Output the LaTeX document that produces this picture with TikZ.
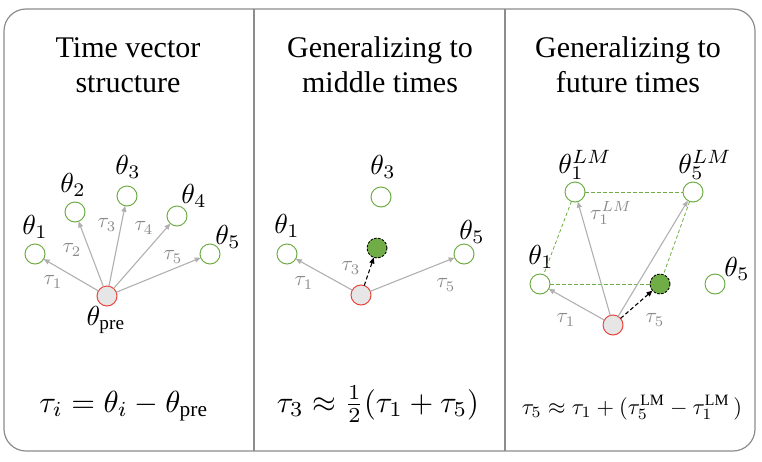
\documentclass[tikz,border=0pt]{standalone}
\usepackage{fontspec}
\setmainfont{Liberation Serif}
\usetikzlibrary{arrows.meta}
\definecolor{cgreen}{HTML}{70AD47}
\definecolor{cred}{HTML}{E8453C}
\definecolor{cgray}{HTML}{B0B0B0}
\definecolor{ctau}{HTML}{8A8A8A}
\definecolor{cframe}{HTML}{8C8C8C}
\definecolor{cfill}{HTML}{E6E6E6}
\begin{document}
\begin{tikzpicture}[x=1pt,y=-1pt,
  every node/.style={inner sep=0pt,outer sep=0pt},
  title/.style={anchor=base,font=\fontsize{30}{35}\selectfont},
  tnode/.style={circle,draw=cgreen,line width=1pt,minimum size=20pt},
  prenode/.style={circle,draw=cred,fill=cfill,line width=1pt,minimum size=20pt},
  estnode/.style={circle,draw=black,dash pattern=on 2.5pt off 1.5pt,fill=cgreen,line width=0.9pt,minimum size=20pt},
  thlab/.style={font=\fontsize{10}{12}\selectfont,scale=2.75},
  taulab/.style={text=ctau,font=\fontsize{10}{12}\selectfont,scale=2.1},
  formula/.style={anchor=base,font=\fontsize{10}{12}\selectfont,scale=3.05},
  garrow/.style={draw=cgray,line width=1.1pt,-{Triangle[length=6pt,width=5pt]}},
  darrow/.style={draw=black,line width=1.1pt,dash pattern=on 4pt off 2.5pt,-{Triangle[length=6pt,width=5pt]}},
  gdash/.style={draw=cgreen,line width=0.8pt,dash pattern=on 3.5pt off 2.5pt},
  frame/.style={draw=cframe,line width=1.2pt}
]
\useasboundingbox (0,0) rectangle (762,461);
% frame
\draw[frame,rounded corners=22pt] (4,9) rectangle (755,451);
\coordinate (d1t) at (254,9); \coordinate (d1b) at (254,451);
\coordinate (d2t) at (505,9); \coordinate (d2b) at (505,451);
\draw[frame] (d1t) -- (d1b);
\draw[frame] (d2t) -- (d2b);
% titles
\node[title] (ta1) at (128,57) {Time vector};
\node[title] (ta2) at (128,92) {structure};
\node[title] (tb1) at (380,57) {Generalizing to};
\node[title] (tb2) at (380,92) {middle times};
\node[title] (tc1) at (628,57) {Generalizing to};
\node[title] (tc2) at (628,92) {future times};
% ---------- panel 1
\node[tnode] (a1) at (35,254) {};
\node[tnode] (a2) at (75,212) {};
\node[tnode] (a3) at (127,196) {};
\node[tnode] (a4) at (177,216) {};
\node[tnode] (a5) at (210,254) {};
\node[prenode] (ap) at (107,296) {};
\node[thlab] (la1) at (35,227) {$\theta_1$};
\node[thlab] (la2) at (73,185) {$\theta_2$};
\node[thlab] (la3) at (128,167) {$\theta_3$};
\node[thlab] (la4) at (194,196) {$\theta_4$};
\node[thlab] (la5) at (228,237) {$\theta_5$};
\node[thlab] (lap) at (106,320) {$\theta_{\mathrm{pre}}$};
\foreach \i in {1,...,5} \draw[garrow] (ap) -- (a\i);
\node[taulab] (ua1) at (53,282) {$\tau_1$};
\node[taulab] (ua2) at (72,250) {$\tau_2$};
\node[taulab] (ua3) at (107,225) {$\tau_3$};
\node[taulab] (ua4) at (144,228) {$\tau_4$};
\node[taulab] (ua5) at (173,257) {$\tau_5$};
\node[formula] (fa) at (124,412) {$\tau_i=\theta_i-\theta_{\mathrm{pre}}$};
% ---------- panel 2
\node[tnode] (b1) at (287,254) {};
\node[tnode] (b3) at (381,197) {};
\node[tnode] (b5) at (464,254) {};
\node[estnode] (be) at (377,248) {};
\node[prenode] (bp) at (361,295) {};
\node[thlab] (lb1) at (287,226) {$\theta_1$};
\node[thlab] (lb3) at (383,167) {$\theta_3$};
\node[thlab] (lb5) at (472,232) {$\theta_5$};
\draw[garrow] (bp) -- (b1);
\draw[garrow] (bp) -- (b5);
\draw[darrow] (bp) -- (be);
\node[taulab] (ub1) at (304,283) {$\tau_1$};
\node[taulab] (ub3) at (351,268) {$\tau_3$};
\node[taulab] (ub5) at (446,285) {$\tau_5$};
\node[formula] (fb) at (378,412) {$\tau_3\approx\frac{1}{2}(\tau_1+\tau_5)$};
% ---------- panel 3
\node[tnode] (c1l) at (575,192) {};
\node[tnode] (c5l) at (693,192) {};
\node[tnode] (c1) at (540,284) {};
\node[estnode] (ce) at (660,284) {};
\node[tnode] (c5) at (715,284) {};
\node[prenode] (cp) at (613,325) {};
\node[thlab] (lc1l) at (585,165) {$\theta_1^{LM}$};
\node[thlab] (lc5l) at (705,165) {$\theta_5^{LM}$};
\node[thlab] (lc1) at (541,257) {$\theta_1$};
\node[thlab] (lc5) at (737,269) {$\theta_5$};
\draw[gdash] (c1l) -- (c5l);
\draw[gdash] (c1) -- (ce);
\draw[gdash] (c1l) -- (c1);
\draw[gdash] (c5l) -- (ce);
\draw[garrow] (cp) -- (c1);
\draw[garrow] (cp) -- (c1l);
\draw[garrow] (cp) -- (c5l);
\draw[darrow] (cp) -- (ce);
\node[taulab] (uc1l) at (611,213) {$\tau_1^{LM}$};
\node[taulab] (uc1) at (566,320) {$\tau_1$};
\node[taulab] (uc5) at (655,320) {$\tau_5$};
\node[anchor=base,font=\fontsize{10}{12}\selectfont,scale=2.25] (fc) at (632,414) {$\tau_5\approx\tau_1+(\tau_5^{\mathrm{LM}}-\tau_1^{\mathrm{LM}}\,)$};
\end{tikzpicture}
\end{document}
